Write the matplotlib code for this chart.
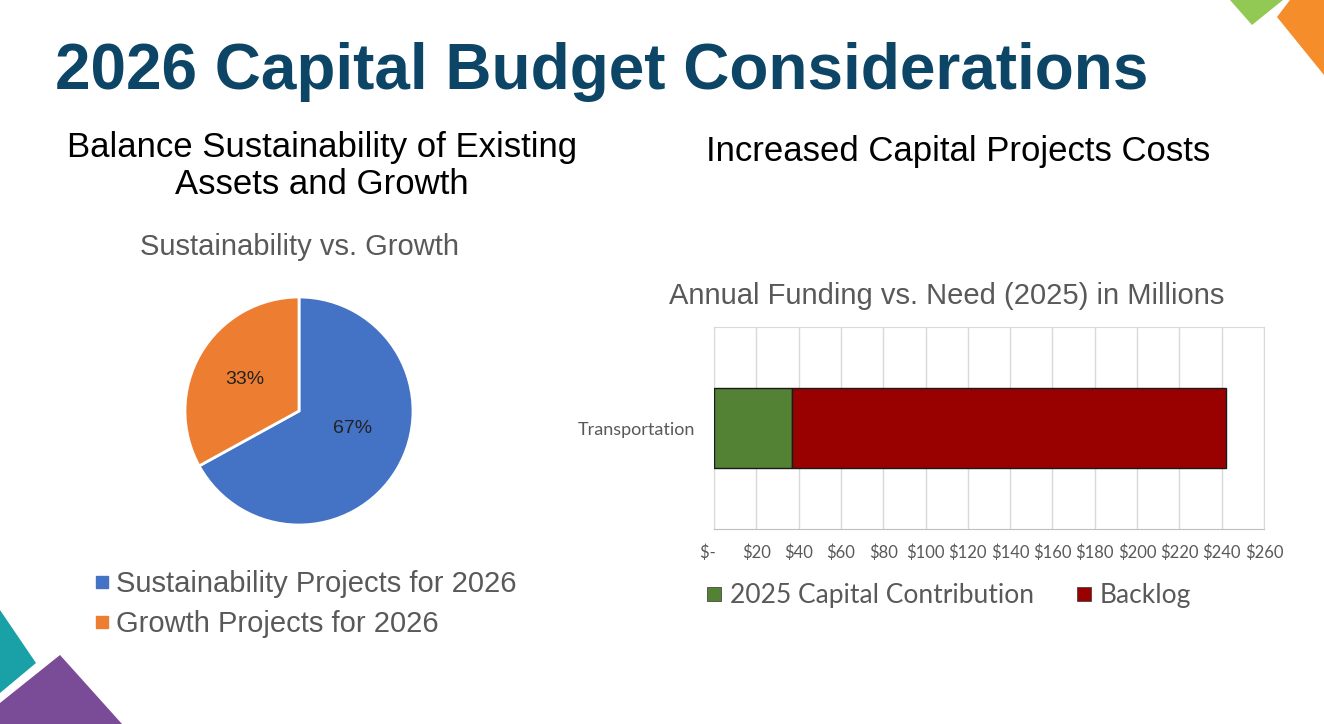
"""2026 capital budget slide: sustainability/growth pie and funding-vs-need bar."""

import matplotlib

matplotlib.use("Agg")

import matplotlib.pyplot as plt
from matplotlib.lines import Line2D
from matplotlib.patches import Polygon
from matplotlib.ticker import FuncFormatter

W, H = 1324, 724  # output size in pixels (dpi 100)

TITLE = "2026 Capital Budget Considerations"
LEFT_HEADING = "Balance Sustainability of Existing\nAssets and Growth"
RIGHT_HEADING = "Increased Capital Projects Costs"

PIE_TITLE = "Sustainability vs. Growth"
pie_labels = ["Sustainability Projects for 2026", "Growth Projects for 2026"]
pie_shares = [67, 33]

BAR_TITLE = "Annual Funding vs. Need (2025) in Millions"
bar_categories = ["Transportation"]
capital_contribution = [37]
backlog = [205]
bar_series = ["2025 Capital Contribution", "Backlog"]
x_ticks = list(range(0, 261, 20))

BLUE, ORANGE = "#4472C4", "#ED7D31"
GREEN, RED = "#548235", "#990000"
NAVY = "#0c4566"
GREY_TEXT = "#595959"
ARIAL = "Liberation Sans"
CALIBRI = "Lato"


def rect(left, top, width, height):
    """Pixel box (from the top-left corner) -> figure fraction rect."""
    return [left / W, 1 - (top + height) / H, width / W, height / H]


def fx(x):
    return x / W


def fy(y):
    return 1 - y / H


def _money(v, _pos=None):
    return "$-   " if v == 0 else f"${v:.0f}"


fig = plt.figure(figsize=(W / 100, H / 100), dpi=100)
fig.patch.set_facecolor("white")

# Decorative corner shards of the slide template.
shards = [
    ([(1230, 0), (1283, 0), (1252, 25)], "#92C955"),
    ([(1290, 0), (1324, 0), (1324, 75), (1277, 17)], "#F58D2B"),
    ([(0, 610), (36, 663), (0, 693)], "#1AA1A8"),
    ([(60, 655), (122, 724), (0, 724), (0, 703)], "#7A4C98"),
]
for pts, color in shards:
    fig.patches.append(
        Polygon([(fx(x), fy(y)) for x, y in pts], closed=True,
                transform=fig.transFigure, facecolor=color, edgecolor="none")
    )

# Slide headings
fig.text(fx(602), fy(89), TITLE, ha="center", va="baseline", fontsize=46,
         fontweight="bold", color=NAVY, family=ARIAL)
fig.text(fx(322), fy(157), LEFT_HEADING.split("\n")[0], ha="center",
         va="baseline", fontsize=25, color="black", family=ARIAL)
fig.text(fx(322), fy(194), LEFT_HEADING.split("\n")[1], ha="center",
         va="baseline", fontsize=25, color="black", family=ARIAL)
fig.text(fx(958), fy(161), RIGHT_HEADING, ha="center", va="baseline",
         fontsize=25, color="black", family=ARIAL)

# ---- pie ----
fig.text(fx(300), fy(255), PIE_TITLE, ha="center", va="baseline",
         fontsize=21, color=GREY_TEXT, family=ARIAL)
ax_pie = fig.add_axes(rect(185, 297, 228, 228))
wedges, _, pct_texts = ax_pie.pie(
    pie_shares,
    colors=[BLUE, ORANGE],
    startangle=90,
    counterclock=False,
    autopct=lambda p: f"{p:.0f}%",
    pctdistance=0.55,
    wedgeprops=dict(edgecolor="white", linewidth=2),
    textprops=dict(fontsize=14, color="#222222", family=ARIAL),
)
pct_texts[0].set_position((0.47, -0.15))
ax_pie.set_xlim(-1, 1)
ax_pie.set_ylim(-1, 1)
ax_pie.set_aspect("equal")

pie_handles = [
    Line2D([], [], marker="s", ls="", markersize=8.5, color=c)
    for c in (BLUE, ORANGE)
]
fig.legend(pie_handles, pie_labels, loc="upper left",
           bbox_to_anchor=(fx(93), fy(570)), frameon=False,
           prop=dict(family=ARIAL, size=21), labelcolor=GREY_TEXT,
           handlelength=0.6, handletextpad=0.2, labelspacing=0.42,
           borderaxespad=0, borderpad=0)

# ---- bar ----
fig.text(fx(947), fy(304), BAR_TITLE, ha="center", va="baseline",
         fontsize=21, color=GREY_TEXT, family=ARIAL)
ax_bar = fig.add_axes(rect(714, 327, 550, 202))
ax_bar.barh(bar_categories, capital_contribution, height=0.4, color=GREEN,
            edgecolor="#1a1a1a", linewidth=1, label=bar_series[0], zorder=3)
ax_bar.barh(bar_categories, backlog, left=capital_contribution, height=0.4,
            color=RED, edgecolor="#1a1a1a", linewidth=1, label=bar_series[1],
            zorder=3)
ax_bar.set_xlim(x_ticks[0], x_ticks[-1])
ax_bar.set_ylim(-0.5, 0.5)
ax_bar.set_xticks(x_ticks)
ax_bar.xaxis.set_major_formatter(FuncFormatter(_money))
ax_bar.tick_params(axis="both", length=0, labelsize=12, labelcolor=GREY_TEXT)
ax_bar.tick_params(axis="x", pad=11.5)
ax_bar.tick_params(axis="y", pad=13.5, labelsize=13)
for lab in ax_bar.get_xticklabels() + ax_bar.get_yticklabels():
    lab.set_family(CALIBRI)
ax_bar.grid(True, axis="x", color="#d9d9d9", linewidth=1, zorder=0)
for side in ("top", "left", "right"):
    ax_bar.spines[side].set_color("#d9d9d9")
ax_bar.spines["bottom"].set_color("#bfbfbf")

bar_handles = [
    Line2D([], [], marker="s", ls="", markersize=10, markerfacecolor=c,
           markeredgecolor="#333333", markeredgewidth=0.5)
    for c in (GREEN, RED)
]
fig.legend(bar_handles, bar_series, loc="upper left",
           bbox_to_anchor=(fx(706), fy(583)), frameon=False, ncol=2,
           prop=dict(family=CALIBRI, size=19), labelcolor=GREY_TEXT,
           handlelength=0.6, handletextpad=0.3, columnspacing=1.6,
           borderaxespad=0, borderpad=0)

fig.savefig("out.png", dpi=100, facecolor="white")
